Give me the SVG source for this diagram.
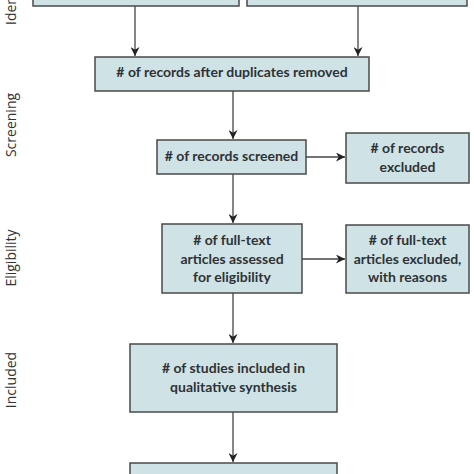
<svg xmlns="http://www.w3.org/2000/svg" width="474" height="474" viewBox="0 0 474 474">
<defs>
<style>
.box{fill:#cfe3e6;stroke:#4a4a4a;stroke-width:1.5}
.t{font-family:Lato,"Open Sans",sans-serif;font-weight:bold;font-size:14px;fill:#2e3236;text-anchor:middle}
.side{font-family:"Open Sans","Noto Sans",sans-serif;font-size:14px;fill:#333}
.c{stroke:#444;stroke-width:1.3;fill:none;marker-end:url(#ah)}
</style>
<marker id="ah" viewBox="0 0 10 10" refX="10" refY="5" markerWidth="9" markerHeight="9" markerUnits="userSpaceOnUse" orient="auto">
<path d="M0,0 L10,5 L0,10 L3,5 Z" fill="#222"/>
</marker>
</defs>
<rect width="474" height="474" fill="#fff"/>
<g id="labels">
<text class="side" transform="translate(16,25) rotate(-90)">Identification</text>
<text class="side" transform="translate(16,125) rotate(-90)" text-anchor="middle">Screening</text>
<text class="side" transform="translate(16,258) rotate(-90)" text-anchor="middle">Eligibility</text>
<text class="side" transform="translate(16,380) rotate(-90)" text-anchor="middle">Included</text>
</g>
<g id="connectors">
<line class="c" x1="135" y1="6" x2="135" y2="56"/>
<line class="c" x1="358" y1="6" x2="358" y2="56"/>
<line class="c" x1="233" y1="91" x2="233" y2="139"/>
<line class="c" x1="306" y1="157" x2="345" y2="157"/>
<line class="c" x1="233" y1="174" x2="233" y2="223"/>
<line class="c" x1="302" y1="259" x2="345" y2="259"/>
<line class="c" x1="233" y1="293" x2="233" y2="343"/>
<line class="c" x1="233" y1="412" x2="233" y2="462"/>
</g>
<g id="n1"><rect class="box" x="33" y="-20" width="206" height="26"/></g>
<g id="n2"><rect class="box" x="247" y="-20" width="220" height="26"/></g>
<g id="n3"><rect class="box" x="95" y="57" width="274" height="34"/>
<text class="t" x="232" y="77">
# of records after duplicates removed</text></g>
<g id="n4"><rect class="box" x="157" y="140" width="149" height="34"/>
<text class="t" x="231.5" y="161">
# of records screened</text></g>
<g id="n5"><rect class="box" x="346" y="133" width="123" height="50"/>
<text class="t" x="407.5" y="153"># of records</text>
<text class="t" x="407.5" y="172">excluded</text></g>
<g id="n6"><rect class="box" x="162" y="224" width="140" height="69"/>
<text class="t" x="232" y="245"># of full-text</text>
<text class="t" x="232" y="263.5">articles assessed</text>
<text class="t" x="232" y="282">for eligibility</text></g>
<g id="n7"><rect class="box" x="346" y="225" width="123" height="68"/>
<text class="t" x="407.5" y="245"># of full-text</text>
<text class="t" x="407.5" y="263.5">articles excluded,</text>
<text class="t" x="407.5" y="282">with reasons</text></g>
<g id="n8"><rect class="box" x="130" y="344" width="207" height="68"/>
<text class="t" x="233.5" y="373"># of studies included in</text>
<text class="t" x="233.5" y="392">qualitative synthesis</text></g>
<g id="n9"><rect class="box" x="130" y="463" width="207" height="30"/></g>
</svg>
